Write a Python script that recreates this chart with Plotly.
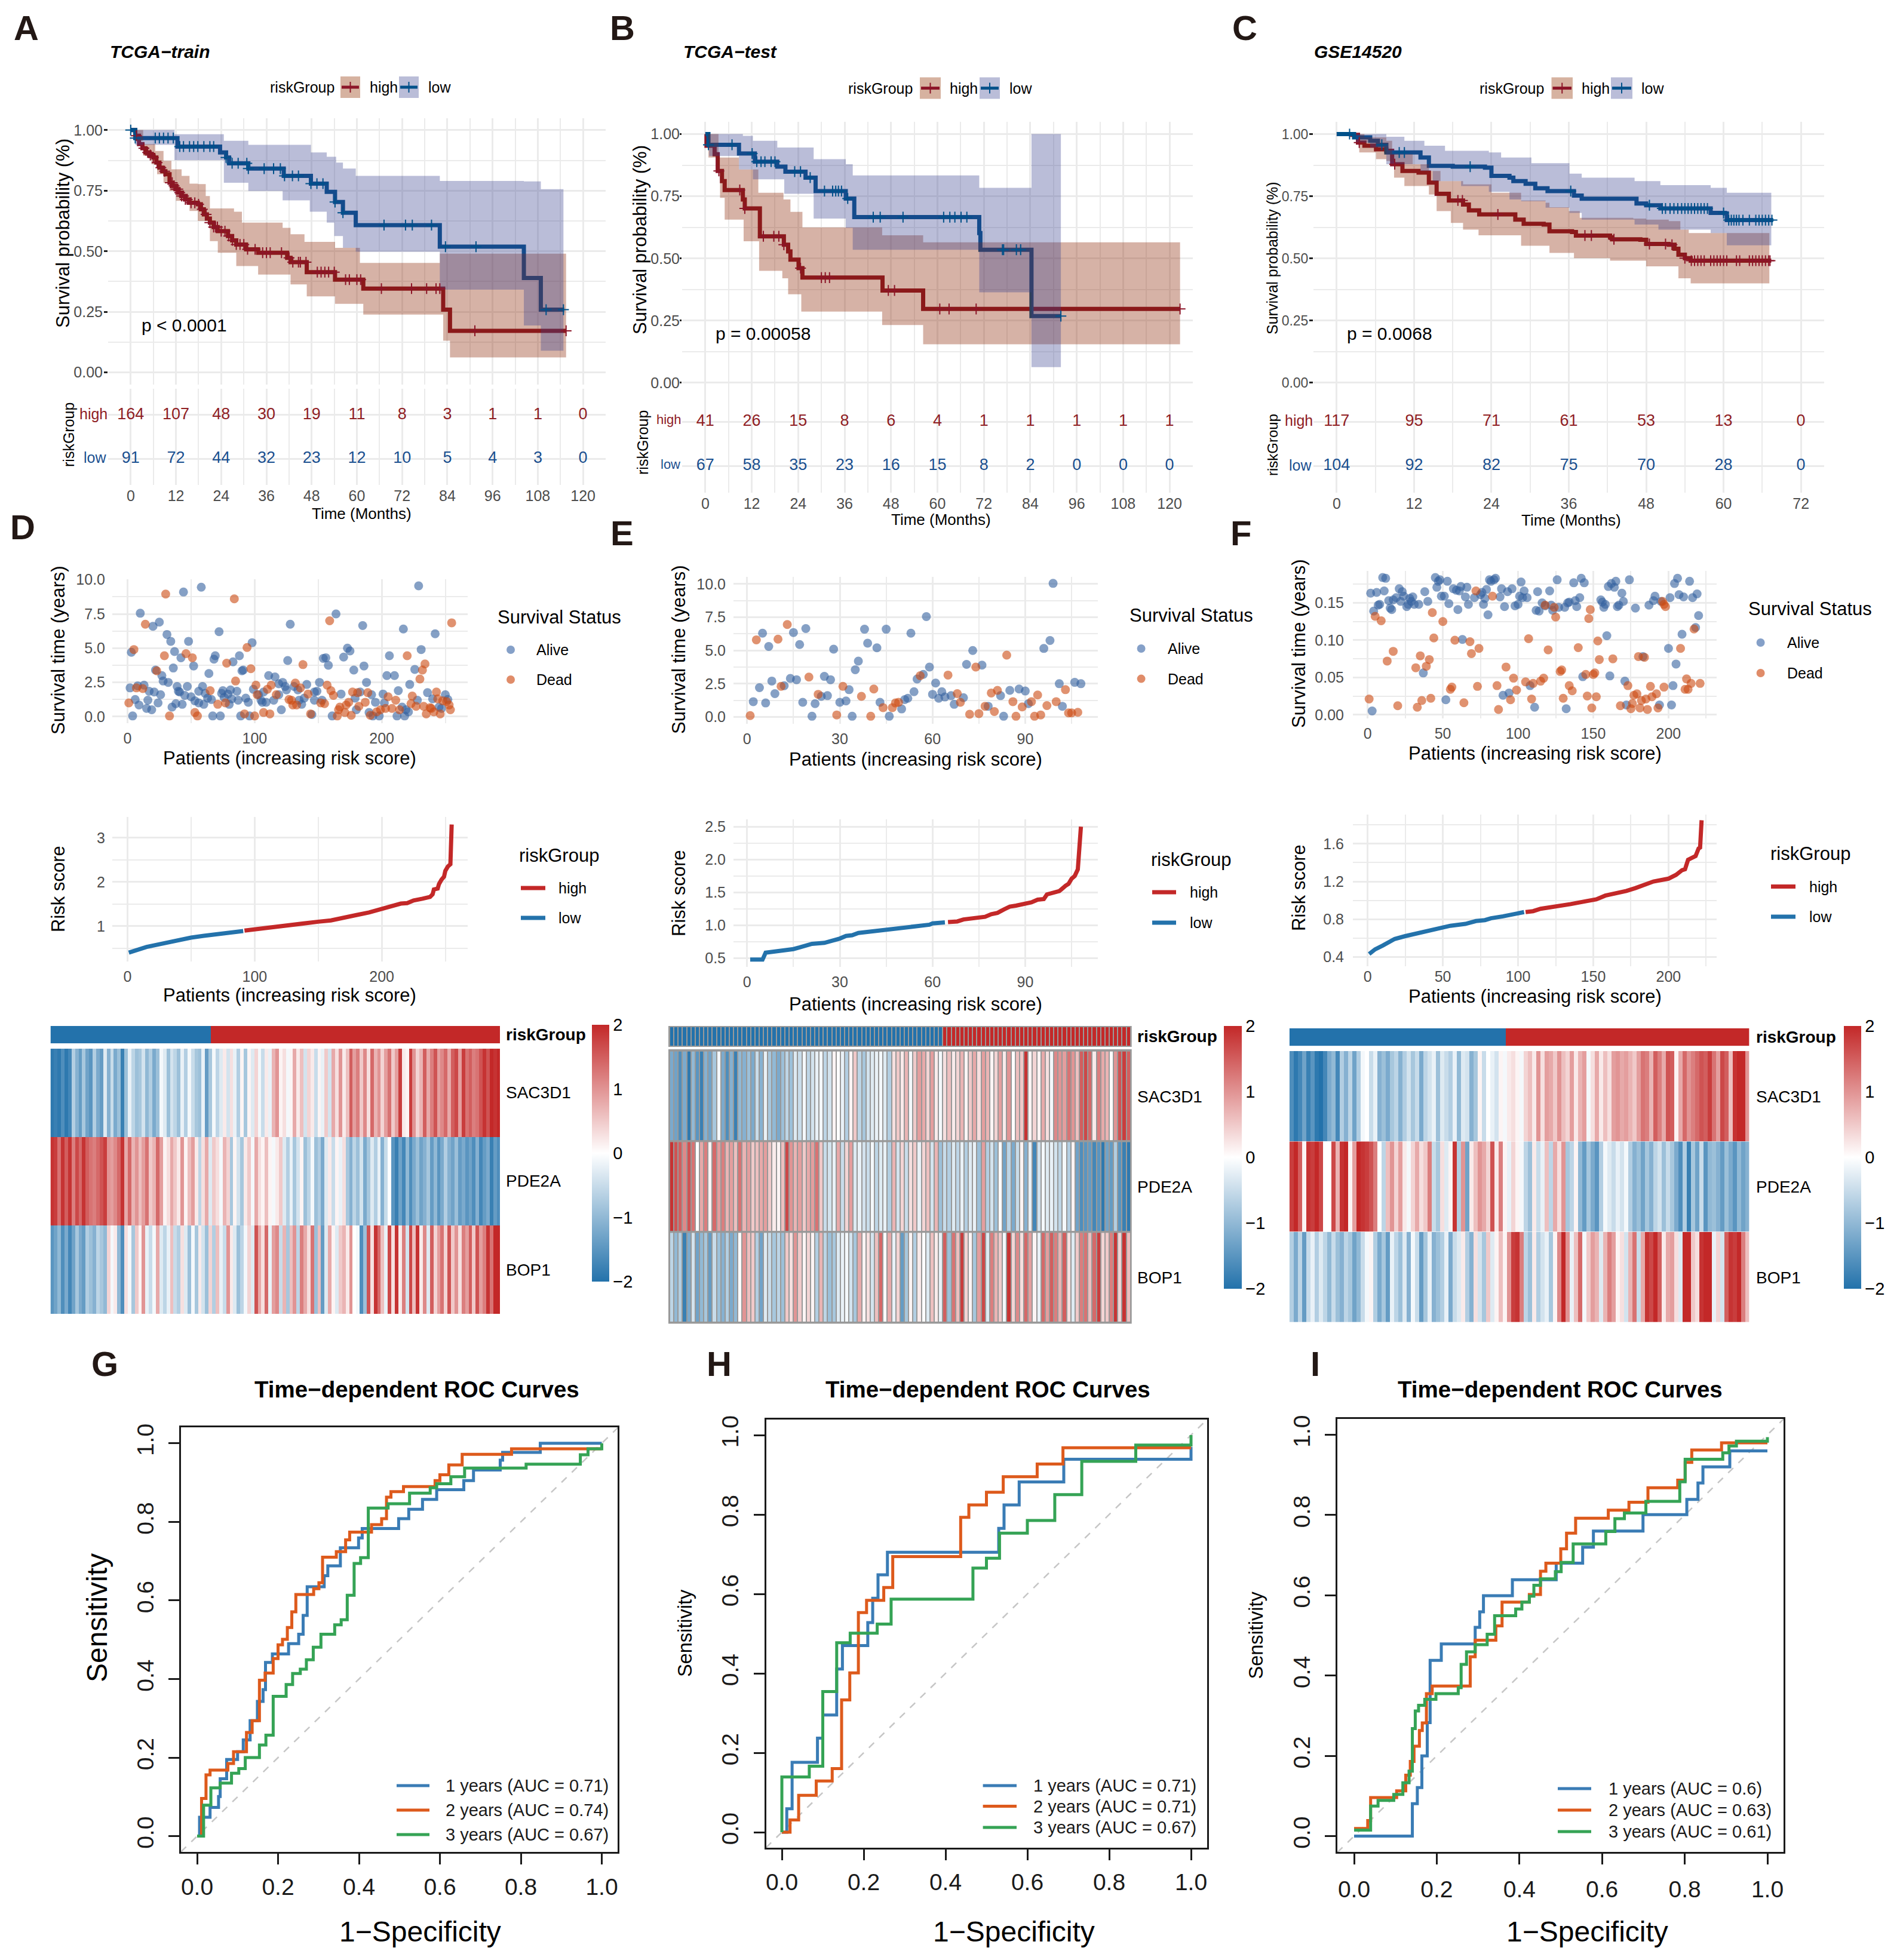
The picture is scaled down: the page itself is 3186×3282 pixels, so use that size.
import plotly.graph_objects as go

W, H = 3186, 3282
FONT = "Liberation Sans"
GRID = "#ebebeb"
TICK_GRAY = "#4d4d4d"
HIGH_TEXT, LOW_TEXT = "#8f2024", "#1a4f8f"
HIGH_LINE, LOW_LINE = "#8c1528", "#00518a"
HIGH_FILL, LOW_FILL = "rgba(138,35,0,0.35)", "rgba(58,66,143,0.35)"
RISK_HIGH, RISK_LOW = "#c32828", "#2372ab"
ALIVE, DEAD = "#34619f", "#cb4a10"
ROC_COLORS = ["#3a7cb5", "#dd5a1c", "#35a355"]

# ---- Kaplan-Meier panel A (TCGA-train) ----
A_TIMES = [0, 12, 24, 36, 48, 60, 72, 84, 96, 108, 120]
A_RISK_HIGH = [164, 107, 48, 30, 19, 11, 8, 3, 1, 1, 0]
A_RISK_LOW = [91, 72, 44, 32, 23, 12, 10, 5, 4, 3, 0]
A_HIGH_T = [0, 1.2, 2.2, 3.1, 3.9, 5, 6, 6.8, 7.6, 8.4, 9.2, 10.3, 11.1, 11.9, 12.7, 13.5, 14.5, 15.6, 17.8, 18.6, 19.4, 20.2, 21, 22, 23.1, 25.8, 26.9, 28, 30.6, 33.8, 41.5, 42.4, 46.7, 54.2, 61.7, 82.9, 84.7, 115.5]
A_HIGH_S = [1, .977, .942, .925, .908, .897, .887, .866, .845, .83, .818, .783, .77, .756, .742, .728, .714, .70, .694, .673, .652, .635, .618, .6, .583, .563, .545, .528, .508, .494, .473, .455, .414, .383, .346, .259, .172, .172]
A_HIGH_UT = [0, 3.3, 6.5, 8.7, 10.8, 13.5, 15.6, 17.8, 19.9, 21, 27.4, 29.5, 40.3, 42.4, 46.1, 54.2, 60.8, 82, 115.5]
A_HIGH_U = [1, .942, .914, .873, .838, .811, .779, .777, .728, .677, .663, .618, .597, .57, .539, .514, .452, .49, .49]
A_HIGH_LT = [0, 1.2, 3.3, 5.5, 7, 8.7, 10.3, 12, 15.6, 17.8, 21, 23.1, 28, 33.8, 42.4, 46.7, 54.2, 61.7, 82.9, 84.7, 115.5]
A_HIGH_L = [1, .956, .894, .859, .818, .783, .749, .708, .666, .625, .542, .494, .439, .404, .363, .314, .283, .239, .131, .062, .062]
A_LOW_T = [0, 1.2, 11.3, 12.4, 22.6, 23.7, 25.3, 26.1, 31.2, 40.6, 47.8, 52, 54.2, 56.3, 59.7, 82, 104.3, 108.8, 115]
A_LOW_S = [1, .967, .967, .932, .932, .908, .887, .863, .841, .811, .779, .745, .703, .659, .608, .519, .39, .259, .259]
A_LOW_UT = [0, 11.6, 24.7, 31.2, 47.8, 52, 54.5, 56.3, 59.7, 82, 104.3, 108.8, 114.8]
A_LOW_U = [1, .983, .956, .939, .908, .89, .866, .841, .811, .79, .788, .756, .756]
A_LOW_LT = [0, 1.2, 11.6, 24.7, 31.2, 40.3, 47.5, 52, 54, 56.3, 59.7, 82, 104.3, 108.8, 114.8]
A_LOW_L = [1, .939, .876, .783, .749, .71, .663, .618, .563, .514, .498, .342, .194, .09, .09]
A_LOW_CENSOR = [0, 1.2, 6.5, 7.6, 8.7, 9.9, 11.3, 13, 14, 15.6, 16.7, 17.8, 19.4, 21, 22, 25.3, 26.9, 28.5, 30.8, 31.2, 35.4, 37.9, 39.7, 40.8, 42.9, 44.5, 47.8, 49.4, 51, 54.2, 56.3, 67.2, 72.9, 74.7, 79.8, 83.5, 91.6, 110.2, 114.8]
A_HIGH_CENSOR = [1.5, 3.5, 4.5, 5.2, 6, 7, 8, 9, 10.5, 11, 11.5, 12, 12.5, 13, 13.5, 14, 14.5, 15, 16, 17, 18, 19, 20, 21, 22, 22.5, 23, 24, 25, 26, 27, 28, 29, 30, 31, 33, 35, 36, 37, 40, 42, 43, 44.5, 45, 46.5, 49.5, 50.5, 51.5, 52.5, 54, 57, 58, 60, 61, 66.5, 74.5, 78.5, 81, 82, 91.3, 115.5]

# ---- Kaplan-Meier panel B (TCGA-test) ----
B_TIMES = [0, 12, 24, 36, 48, 60, 72, 84, 96, 108, 120]
B_RISK_HIGH = [41, 26, 15, 8, 6, 4, 1, 1, 1, 1, 1]
B_RISK_LOW = [67, 58, 35, 23, 16, 15, 8, 2, 0, 0, 0]
B_HIGH_T = [0, .3, 2.4, 3.2, 4.3, 5, 9.7, 10.2, 14.1, 20.3, 21.4, 22, 24.1, 25.1, 45.8, 56.3, 122.7]
B_HIGH_S = [1, .953, .919, .852, .811, .775, .737, .701, .589, .555, .528, .495, .461, .423, .371, .297, .297]
B_HIGH_UT = [0, 3.4, 8.7, 13.7, 20.2, 22, 25.1, 45.7, 56.3, 122.7]
B_HIGH_U = [1, .906, .858, .764, .737, .687, .625, .593, .565, .565]
B_HIGH_LT = [0, .8, 3, 3.8, 5, 9.9, 13.9, 19.9, 21.4, 24.8, 45.7, 56.3, 122.7]
B_HIGH_L = [1, .906, .852, .744, .656, .569, .45, .42, .356, .286, .232, .155, .155]
B_LOW_T = [0, .8, 8.7, 12.8, 18.6, 20.7, 25.9, 28.5, 36.3, 38.5, 70.8, 71.1, 84.3, 91.9]
B_LOW_S = [1, .957, .922, .889, .869, .849, .825, .771, .741, .666, .602, .535, .268, .268]
B_LOW_UT = [0, 9.7, 12.3, 18.6, 28, 36.3, 38.1, 70.8, 84.3, 91.9]
B_LOW_U = [1, .993, .973, .946, .899, .879, .834, .784, 1, 1]
B_LOW_LT = [0, 1, 8.7, 12.3, 20.4, 28, 36.3, 38.1, 70.8, 84.3, 91.9]
B_LOW_L = [1, .912, .858, .818, .76, .66, .623, .535, .364, .063, .063]
B_LOW_CENSOR = [.8, 6.9, 12.1, 13.3, 14.4, 15.4, 17, 18, 23.1, 24.6, 27.1, 30.8, 32.9, 33.7, 34.4, 35.2, 36.8, 43.4, 45.2, 51.1, 61.6, 63.2, 64.5, 66.1, 67.6, 76.8, 77.1, 80.4, 81.5, 91.9]
B_HIGH_CENSOR = [3.5, 8.9, 10.2, 15, 17.7, 19, 20.3, 24.6, 30, 31, 32.1, 47.3, 48.9, 60.6, 63, 70, 122.7]

# ---- Kaplan-Meier panel C (GSE14520) ----
C_TIMES = [0, 12, 24, 36, 48, 60, 72]
C_RISK_HIGH = [117, 95, 71, 61, 53, 13, 0]
C_RISK_LOW = [104, 92, 82, 75, 70, 28, 0]
C_HIGH_T = [0, 2.4, 3.3, 4.3, 6.1, 7.7, 8.6, 10.2, 12.7, 14.3, 15.5, 17.4, 19.6, 20.5, 22.1, 27.7, 29, 32.1, 33, 36.5, 37.1, 42.4, 42.7, 47.1, 48, 51.5, 52.4, 53, 54, 54.9, 67.4]
C_HIGH_S = [1, .997, .966, .953, .939, .933, .879, .852, .845, .805, .76, .733, .717, .693, .677, .656, .639, .636, .609, .606, .592, .585, .577, .575, .558, .555, .539, .515, .501, .491, .491]
C_HIGH_UT = [0, 4.3, 7.7, 8.6, 11.8, 14.3, 16.1, 19.6, 24, 28.6, 32.4, 33, 36, 37.7, 46, 48, 51.5, 53.3, 54.6, 67.1]
C_HIGH_U = [1, .987, .973, .919, .879, .852, .811, .798, .764, .733, .724, .706, .69, .663, .66, .656, .65, .616, .602, .60]
C_HIGH_LT = [0, 3.5, 6.1, 7.7, 8.9, 10.5, 14.3, 15.5, 17.7, 19.6, 22, 28.6, 33, 36.8, 42.4, 48, 53, 54.9, 67.1]
C_HIGH_L = [1, .926, .899, .892, .825, .791, .757, .69, .643, .616, .593, .551, .522, .501, .491, .468, .42, .40, .40]
C_LOW_T = [0, 2.7, 5.2, 6.4, 7.7, 13, 14.3, 18, 23, 24, 26.8, 27.4, 29.3, 30.8, 32.7, 36.8, 38, 46.5, 48, 50.2, 58, 60.2, 60.5, 67.7]
C_LOW_S = [1, .987, .973, .957, .926, .906, .872, .869, .865, .832, .825, .811, .80, .782, .771, .753, .74, .721, .714, .701, .683, .681, .654, .654]
C_LOW_UT = [0, 7.7, 10.5, 13.6, 16.8, 23.6, 25.5, 30.2, 36.1, 38, 46.2, 50.2, 58, 60.5, 67.4]
C_LOW_U = [1, .989, .973, .953, .933, .926, .906, .883, .841, .825, .811, .795, .784, .764, .764]
C_LOW_LT = [0, 3, 5.2, 7.7, 13, 14.9, 19.3, 23.6, 26.8, 28.6, 32.4, 36.1, 38, 46.2, 49.9, 58, 60.5, 67.4]
C_LOW_L = [1, .965, .946, .879, .852, .811, .791, .768, .737, .73, .704, .683, .656, .636, .616, .602, .553, .553]
C_LOW_CENSOR = [2, 7, 9.7, 10.5, 20.7, 36.3, 48.5, 50.5, 51, 51.7, 52.3, 52.9, 53.5, 54, 54.5, 55, 55.5, 56, 56.5, 57, 57.5, 60, 60.8, 61.2, 61.6, 62, 62.4, 63, 64, 65, 65.5, 66, 66.5, 67, 67.5]
C_HIGH_CENSOR = [3.5, 9, 18.8, 19.5, 25, 38.5, 39.5, 43, 48.5, 51, 52, 54, 55, 55.5, 56, 56.5, 57, 58, 58.5, 59, 59.5, 60, 60.5, 62, 62.5, 64, 64.5, 65, 65.5, 66, 66.5, 67, 67.2]

# ---- Survival scatter panels D, E, F ----
D_ALIVE_X = [3, 2, 4, 6, 8, 9, 10, 13, 16, 15, 17, 19, 20, 21, 22, 24, 25, 26, 27, 28, 31, 32, 34, 35, 36, 37, 38, 39, 40, 41, 42, 43, 44, 45, 47, 48, 50, 52, 53, 56, 56, 58, 59, 60, 61, 63, 64, 66, 67, 68, 69, 72, 73, 74, 75, 76, 79, 80, 81, 82, 83, 86, 87, 88, 89, 90, 91, 93, 95, 96, 98, 99, 103, 105, 106, 107, 109, 111, 115, 116, 119, 119, 121, 122, 124, 125, 126, 128, 131, 134, 135, 137, 139, 141, 145, 147, 147, 149, 151, 153, 154, 156, 158, 161, 164, 168, 170, 173, 175, 178, 179, 180, 183, 185, 186, 188, 190, 192, 193, 195, 198, 201, 202, 204, 206, 210, 212, 213, 216, 217, 218, 219, 221, 222, 226, 228, 229, 231, 236, 240, 242, 245, 247, 250, 252]
D_ALIVE_Y = [4.7, 2.1, .05, 1.25, 2.25, .85, 7.55, 2.3, 1.2, .6, 1.85, .5, 6.6, 1.8, 3.4, 1.0, 6.9, 1.6, 3.0, 2.6, 6.0, 2.5, 5.5, .7, 3.55, 4.75, .95, 2.2, 1.85, 1.8, 4.3, .9, 9.1, 1.55, 2.2, 5.5, 1.45, 3.7, 1.15, 1.85, 1.0, 9.45, 2.2, .9, 1.7, 1.35, 3.15, 1.25, .05, 4.2, 4.45, 6.2, .05, 1.7, 1.9, 1.4, 1.65, .9, 1.95, 1.3, 4.0, 1.85, 1.2, 4.45, .05, 3.35, 3.4, 1.35, 1.05, .05, 5.4, 2.0, 1.6, 1.2, 1.05, 1.8, 1.05, 3.0, 1.2, 2.9, 1.6, 2.4, .5, 2.5, 2.2, 1.95, 4.1, 6.75, 2.2, 1.95, 1.2, .9, 1.35, 2.35, .15, 1.8, 1.2, 1.85, 2.5, 1.2, 4.25, 4.3, 3.75, .05, 7.5, 1.65, 4.35, 5.0, 4.8, 3.4, 1.35, .5, 1.8, 6.65, 3.7, 2.5, .3, 1.6, .05, 1.05, .05, 1.65, 1.0, 3.0, 4.45, 3.0, .05, 1.9, .7, 6.4, .05, .5, .35, 2.35, 3.45, 1.2, 9.55, 4.9, 1.75, 1.3, 6.05, .7, .6, 1.6, 1.25]
D_DEAD_X = [1, 5, 7, 12, 14, 23, 29, 30, 33, 46, 51, 53, 55, 65, 71, 77, 78, 84, 85, 92, 94, 97, 100, 101, 102, 107, 110, 112, 113, 117, 127, 129, 130, 132, 133, 136, 138, 142, 144, 152, 155, 157, 159, 160, 162, 165, 166, 167, 171, 172, 174, 176, 177, 181, 182, 187, 189, 191, 196, 199, 203, 205, 208, 211, 214, 220, 224, 223, 227, 230, 232, 233, 234, 235, 238, 239, 241, 243, 244, 246, 248, 251, 253, 254, 255]
D_DEAD_Y = [1.0, 4.9, 2.1, 2.05, 6.75, 3.35, 4.45, 8.95, .05, 4.6, 4.3, .3, .05, 1.9, .9, 1.0, 3.9, 8.6, 2.6, .2, 5.05, 3.5, .05, 2.3, 1.6, .3, 2.0, .2, 2.3, 1.6, 1.25, 1.2, .85, 2.45, .85, 2.1, 3.8, 1.65, .2, 1.0, .95, 2.3, 7.0, 1.9, 1.55, .05, .5, .7, .3, .85, 1.05, .1, 1.8, 1.75, .75, 1.05, 1.75, .1, .35, .5, .6, 1.45, .6, 1.2, .5, 4.45, 1.5, .95, .75, 2.75, 3.4, .75, 3.85, .2, .65, .6, .35, 1.8, 1.3, .2, 1.15, 1.1, .85, .5, 6.85]

E_ALIVE_X = [2, 4, 5, 6, 7, 8, 9, 12, 14, 15, 16, 17, 18, 19, 21, 22, 24, 25, 26, 27, 28, 30, 32, 33, 34, 35, 36, 38, 39, 42, 43, 45, 46, 50, 51, 52, 53, 54, 55, 57, 58, 59, 60, 61, 62, 63, 64, 66, 67, 70, 71, 73, 76, 78, 82, 83, 85, 88, 90, 91, 96, 98, 99, 101, 102, 106, 108]
E_ALIVE_Y = [1.15, 2.2, 6.3, 1.05, 5.3, 2.7, 1.75, 2.35, 2.9, 6.35, 2.8, 5.45, 1.1, 6.65, .05, 1.0, 1.55, 3.05, 1.6, 2.8, 5.1, 1.1, 1.2, 2.05, .05, 3.55, 4.2, 6.6, 5.55, 5.2, 1.1, 6.6, .05, .6, 1.3, 1.4, 6.3, 1.9, 2.85, 3.2, 7.55, 3.75, 1.7, 2.55, 1.4, 1.9, 1.5, 1.6, .95, 1.45, 3.95, 5.0, 3.9, .8, 1.6, .05, 2.0, 2.1, 1.95, 1.0, 5.15, 5.75, 10.05, 2.5, .8, 2.6, 2.5]
E_DEAD_X = [1, 3, 10, 11, 13, 20, 23, 29, 31, 37, 40, 41, 44, 47, 48, 49, 56, 65, 68, 69, 72, 74, 75, 77, 79, 80, 81, 84, 86, 87, 89, 92, 93, 94, 95, 97, 100, 103, 104, 105, 107]
E_DEAD_Y = [.1, 5.8, 5.85, 2.3, 6.95, 3.0, 1.7, .15, 2.3, 1.55, .05, 2.1, .7, .7, 1.05, 1.1, 3.1, 3.15, 1.75, 1.1, .2, 3.75, .25, .8, 1.8, .4, 2.0, 4.65, 1.15, .05, .75, 1.15, .05, 1.65, .15, .85, 1.15, 2.05, .3, .3, .35]

F_ALIVE_X = [2, 3, 4, 6, 7, 8, 10, 11, 12, 14, 15, 16, 17, 19, 21, 22, 23, 24, 26, 27, 28, 29, 30, 31, 34, 37, 38, 40, 45, 46, 47, 48, 49, 51, 52, 53, 54, 57, 59, 60, 61, 62, 63, 65, 66, 67, 71, 75, 76, 77, 78, 79, 80, 81, 82, 84, 85, 88, 89, 90, 91, 93, 94, 96, 98, 100, 101, 102, 103, 104, 106, 108, 111, 112, 113, 114, 116, 118, 121, 122, 123, 126, 127, 131, 132, 133, 134, 137, 138, 139, 141, 142, 143, 144, 155, 156, 157, 158, 159, 160, 161, 162, 164, 165, 166, 167, 169, 170, 171, 172, 174, 178, 183, 187, 190, 191, 194, 195, 200, 201, 202, 203, 204, 205, 206, 207, 209, 210, 214, 216, 218, 219, 220]
F_ALIVE_Y = [.163, .005, .139, .164, .147, .148, .184, .166, .183, .153, .143, .141, .154, .157, .169, .152, .165, .159, .145, .148, .156, .152, .158, .148, .148, .056, .165, .152, .184, .171, .179, .181, .159, .159, .020, .179, .149, .169, .167, .141, .166, .172, .101, .158, .171, .148, .157, .161, .164, .148, .156, .168, .134, .181, .179, .181, .183, .158, .169, .026, .145, .165, .029, .169, .146, .148, .159, .178, .157, .166, .157, .039, .01, .14, .165, .139, .15, .146, .166, .147, .14, .181, .144, .144, .008, .15, .151, .177, .153, .145, .157, .183, .051, .177, .154, .151, .144, .148, .106, .172, .052, .176, .171, .179, .145, .147, .163, .152, .045, .013, .181, .143, .078, .147, .153, .159, .013, .152, .089, .157, .013, .039, .176, .068, .183, .161, .108, .158, .179, .157, .117, .162, .133]
F_DEAD_X = [1, 5, 9, 13, 17, 20, 32, 33, 35, 36, 39, 41, 42, 43, 44, 50, 55, 56, 58, 64, 68, 69, 72, 73, 74, 83, 86, 87, 92, 95, 97, 99, 105, 107, 109, 110, 115, 117, 118, 120, 124, 125, 128, 129, 130, 134, 136, 140, 145, 146, 147, 148, 149, 150, 151, 152, 153, 154, 163, 168, 173, 175, 176, 177, 179, 180, 181, 182, 184, 185, 186, 188, 189, 192, 193, 196, 197, 198, 197, 208, 211, 212, 213, 215, 217, 221]
F_DEAD_Y = [.021, .132, .126, .072, .085, .012, .063, .01, .079, .019, .065, .074, .022, .137, .103, .125, .034, .037, .1, .016, .098, .082, .166, .038, .089, .159, .039, .007, .064, .02, .049, .033, .044, .102, .021, .042, .045, .049, .147, .087, .144, .131, .058, .06, .022, .039, .032, .09, .054, .025, .129, .141, .009, .054, .056, .024, .099, .074, .075, .012, .039, .008, .015, .026, .028, .078, .009, .019, .077, .021, .007, .038, .024, .028, .009, .152, .148, .145, .037, .089, .034, .048, .034, .042, .115, .042]

# ---- Risk score curves ----
D_LOW_IDX = [1, 5, 10, 15, 20, 25, 30, 35, 40, 50, 60, 70, 80, 91]
D_LOW_RISK = [.40, .44, .50, .53, .56, .59, .62, .66, .68, .74, .78, .82, .86, .89]
D_HIGH_IDX = [92, 100, 110, 120, 130, 140, 150, 160, 170, 180, 190, 200, 210, 215, 220, 225, 232, 238, 240, 241, 244, 245, 247, 249, 250, 252, 254, 255]
D_HIGH_RISK = [.90, .93, .97, 1.0, 1.04, 1.07, 1.1, 1.13, 1.2, 1.25, 1.31, 1.39, 1.45, 1.51, 1.52, 1.58, 1.62, 1.66, 1.72, 1.83, 1.85, 1.95, 2.05, 2.12, 2.25, 2.35, 2.4, 3.3]
E_LOW_IDX = [1, 5, 6, 9, 12, 15, 17, 19, 21, 25, 27, 28, 30, 32, 34, 36, 40, 43, 47, 50, 53, 57, 59, 60, 64]
E_LOW_RISK = [.48, .48, .585, .6, .625, .64, .665, .69, .72, .735, .76, .78, .8, .84, .85, .885, .905, .93, .94, .955, .98, .99, 1.01, 1.03, 1.045]
E_HIGH_IDX = [65, 68, 70, 72, 75, 77, 79, 80, 81, 83, 84, 85, 87, 90, 92, 94, 96, 97, 99, 101, 103, 104, 105, 106, 107, 108]
E_HIGH_RISK = [1.05, 1.06, 1.09, 1.1, 1.12, 1.13, 1.17, 1.18, 1.19, 1.24, 1.26, 1.285, 1.3, 1.33, 1.35, 1.39, 1.4, 1.47, 1.49, 1.52, 1.6, 1.63, 1.71, 1.75, 1.85, 2.5]
F_LOW_IDX = [1, 3, 5, 10, 15, 18, 25, 30, 37, 45, 55, 65, 72, 78, 82, 90, 97, 104]
F_LOW_RISK = [.43, .46, .48, .52, .57, .59, .62, .64, .66, .7, .73, .75, .78, .79, .81, .83, .85, .875]
F_HIGH_IDX = [105, 110, 115, 125, 135, 145, 152, 158, 165, 172, 178, 185, 190, 200, 205, 209, 211, 213, 216, 218, 220, 221, 222]
F_HIGH_RISK = [.875, .885, .91, .93, .96, .99, 1.01, 1.05, 1.07, 1.1, 1.13, 1.17, 1.2, 1.23, 1.27, 1.32, 1.33, 1.43, 1.46, 1.47, 1.55, 1.56, 1.85]

# ---- Expression heatmaps ----
GENES = ["SAC3D1", "PDE2A", "BOP1"]
D_HEAT_SAC3D1 = [-1.9, -1.8, -1.9, -1.6, -1.9, -1.7, -.7, -1.1, -1.4, -.8, -1.3, -1.5, -.7, -1.2, -1.4, -.3, -1.1, -.5, -1.2, -.9, -1.8, -.9, -.2, -.6, -.9, -.8, -.4, -1.0, -.7, -1.2, -.9, -.1, -.3, -.9, -.4, -.6, -.9, -.2, -.7, -.1, -.5, -.8, -.9, -.2, -1.4, -.8, -.1, -.6, -.3, .2, -.4, .3, -.2, -.7, .1, -.8, .1, -.3, .4, -.1, -.5, .2, -.2, .7, 1.0, .1, .3, -.1, .1, .8, .2, .6, -.4, .4, .2, -.5, .1, -.2, .5, -.4, .8, .3, 1.0, .2, .6, 1.5, .9, 1.2, .5, 1.1, .3, 1.4, .7, 1.0, .4, .9, 1.3, .5, .9, 1.8, .2, .1, 1.8, 1.0, .4, .7, 1.5, .8, 1.2, 1.6, .9, 1.1, 1.4, .8, 1.5, 1.7, .9, 1.8, 1.3, 1.5, 1.2, 1.3, 1.6, 1.9, 1.6, 2.0, 1.9, 2.0]
D_HEAT_PDE2A = [1.9, 1.8, 1.3, 1.9, 1.5, 1.9, 1.2, 1.7, 1.4, 1.9, 1.5, 1.3, 1.2, 1.4, 1.6, 1.8, 1.0, .9, 1.1, 1.4, 1.9, .8, 1.4, .7, 1.0, .6, .9, 1.3, .5, .7, 1.4, .9, .1, .3, .8, .5, .2, 1.0, .1, .6, .9, .2, -.6, .3, .8, -.3, .5, .3, -.1, .7, .4, -.8, .1, -.4, -.8, .2, .5, -.1, .8, .3, .1, .6, .1, -.1, .2, .5, -.3, -.7, -.2, -.8, -.4, .1, -.9, -.6, -.1, -.9, -.7, -1.2, -.3, .2, -.5, .1, -.2, .3, -.8, -1.1, -.6, -.9, -.4, -1.2, -.8, -.3, -.7, -.2, -1.1, -.5, 0, -1.5, -1.8, -1.3, -1.7, -1.0, -1.6, -1.2, -.9, -1.3, -1.1, -.8, -1.4, -1.0, -1.5, -1.2, -.7, -1.1, -1.3, -.9, -1.4, -1.2, -1.5, -1.3, -1.6, -1.1, -1.7, -1.4, -1.2, -1.8, -1.4, -1.6]
D_HEAT_BOP1 = [-1.5, -1.3, -1.0, -1.6, -1.2, -1.7, -1.3, -.8, -1.2, -1.4, -.7, -.9, -1.1, -.6, -.8, -1.0, .4, -.1, .2, -1.0, -1.6, .3, -.1, -.8, .5, .1, 1.0, -.2, -.5, -.1, .8, -.3, -.6, -.2, .6, -.5, -.7, .3, -.3, -.9, -.1, -.8, .2, -.4, -.9, .4, -.7, .6, -.2, -.5, 1.0, .2, -.3, -.9, -.6, -.1, .4, -.3, 1.6, .8, .3, 1.4, -.2, .9, 1.1, -.5, .7, -.8, .6, 1.0, -.6, 1.2, .8, .3, 1.3, -.9, .6, -1.4, -.3, .8, .1, -.3, .5, .7, .2, 1.0, 0, -.1, -1.6, -.9, 1.6, .3, 1.9, 1.4, .6, -.2, 1.7, .3, 1.9, .2, 1.2, -.4, 1.7, .6, 1.9, .2, 1.1, -.3, 1.5, .4, .9, 1.3, .4, 1.6, .5, 1.0, .3, 1.2, .9, 1.5, .5, 1.6, .9, 1.2, 1.9, 1.3, 2.0, 2.0]
E_HEAT_SAC3D1 = [-1.2, -1.3, -1.6, -1.2, -1.9, -1.0, -1.5, -1.8, -1.1, -1.3, -.8, -.1, -1.2, -1.6, -1.1, -1.8, -1.0, -1.1, -.9, -1.2, -.5, -1.1, -.2, -.8, -1.0, -1.2, -.9, -.6, -.9, -.3, -.5, -.1, -.6, -.4, -.2, -.1, -.6, -.4, .1, 0, -.2, -.7, .1, .5, -.6, -.8, -.4, -.3, -.2, -.1, -.3, -.7, .3, .5, .2, .7, -.1, .5, .9, .8, .4, .9, .2, -.1, .3, .6, .2, .4, .7, .1, .5, .8, .3, .9, .7, .1, .4, .9, .2, 1.0, 0, .6, .5, 1.9, .1, .4, .1, .8, .3, -.1, 1.1, 1.0, .9, 1.3, 1.0, .6, 1.5, 1.7, 1.4, .2, 1.2, .8, .7, 0, 1.0, 1.6, 1.8, 1.5]
E_HEAT_PDE2A = [1.9, 1.6, 1.5, 1.1, 1.6, 1.3, 0, .8, 1.2, .1, 1.4, .9, 1.2, .7, .9, .6, 1.3, .7, .9, .5, .6, .8, .9, .5, .2, .1, .6, 1.7, 1.0, .7, .9, .5, .8, .9, 1.3, .5, -.5, -.4, -.2, .8, -.5, .4, .9, -.3, -.2, -.4, -.5, -.1, -.6, -.3, -.2, -.7, .7, -.4, .4, -.5, .3, .5, -.2, .4, .6, -.4, .7, -.9, -.5, -.7, -.3, -.6, -.2, -.7, -.3, -.2, -.9, .9, -.7, -.4, -.9, 0, -1.3, -.6, -1.2, -.5, .1, -1.1, -.2, -1.7, -.4, -.1, -.3, -.2, -.4, -.6, -.1, -.7, .1, -1.3, -1.6, -1.5, -1.4, -1.7, -1.5, -1.9, -1.3, -1.4, -.7, -1.5, -1.8, -1.9]
E_HEAT_BOP1 = [-.6, -1.0, -.7, -1.8, -1.2, -.4, -1.3, -1.0, -.8, -1.4, -.5, -.9, -1.1, -.7, -1.2, -1.0, 0, 1.0, .6, .5, -.7, -1.3, -.3, -.5, -.8, -.6, -.9, .5, .3, 1.0, .5, .1, .4, .1, -.7, .7, -.6, -.9, -.8, -.3, -.2, -.1, -.4, -.8, .8, .1, .3, -.4, .6, 1.4, 0, .8, -.2, .4, -1.4, -.8, .1, -.7, .2, 0, -.3, .6, .2, -.2, 1.5, -.9, 1.3, .6, 1.8, .4, .1, -.8, .9, 1.7, -.3, 1.2, .7, .5, -.1, 1.9, .4, 1.1, .3, 1.4, .9, .1, -.2, 1.4, .9, 1.5, 1.2, .7, 1.5, .3, -.3, .5, 1.2, 1.3, .6, 1.4, 1.8, .4, .5, 1.2, 1.9, .4, 1.9, .6]
F_HEAT_SAC3D1 = [-1.6, -1.9, -1.7, -1.3, -1.8, -1.5, -1.9, -2.0, -1.7, -1.2, -1.0, -1.7, -.7, -1.1, -.6, -1.3, -.7, -.1, 0, -.5, -.2, -1.1, -.9, -1.2, -.8, -.6, -1.1, -.7, -.4, -.8, -.5, -1.2, -.6, -.4, -.2, -.9, -.3, -.5, -.7, -.2, -1.0, -.3, -.4, -1.1, -.8, .1, -.5, 0, -.2, -.4, .1, -.1, .2, .3, .1, -.1, .4, .6, .2, 1.0, .3, .9, .8, .5, 1.0, .6, .4, .9, .2, .7, .9, -.1, .3, .8, .2, .6, .3, .9, 1.0, .8, .9, .7, .5, .9, 1.3, 1.2, .7, 1.5, 1.2, .8, 1.6, 1.5, .1, .8, 1.4, 1.0, 1.2, 1.4, 1.6, 1.5, 1.8, 1.3, .9, 1.7, 1.5, .6, 1.9, 2.0, 2.0, 1.0]
F_HEAT_PDE2A = [1.8, 2.0, 1.5, .1, 1.9, 1.8, 2.0, 1.7, 0, 0, 1.7, .7, 1.9, 2.0, .1, .9, 2.0, 1.9, 1.8, 1.6, 1.2, 0, -.6, .6, 1.0, .4, .9, .2, -.1, .4, .8, .3, .5, 1.2, -.5, -.8, .3, -.3, .1, 1.9, -.7, 1.0, -1.3, .2, .6, 1.0, .8, .4, 1.6, .2, 1.2, .1, -.2, .4, .1, -.1, -.6, -.9, .2, -.5, -.2, .6, -.6, .8, .3, 1.0, -.8, -.6, .1, -1.0, -1.4, -.8, -1.2, -1.5, -.7, -.1, -.3, -.5, -.2, -.4, -.1, -.7, -1.1, -.9, -1.3, -.8, -1.1, -.6, -.4, -.9, -.5, -.8, -1.2, -1.6, -.7, -1.8, -.8, -1.3, -.5, -1.5, -1.0, -.9, -1.1, -1.4, -.9, -1.2, -1.5, -1.0, -1.3, -1.1]
F_HEAT_BOP1 = [-.7, -1.2, -.6, -1.4, -.5, -.2, -.7, -.3, -.6, -1.0, -.5, -.9, -1.1, -.6, -.8, -1.3, -1.0, -.5, -.1, .1, -.7, -1.2, -.8, -1.4, -.2, -.6, -.9, -.3, -1.1, -.1, -.5, -1.4, -.8, -.2, -1.1, -.9, -.7, -.2, -1.2, -.5, -.3, .2, -.7, -1.1, .3, -.4, -.8, .5, -.3, .1, .6, .1, 1.0, 1.8, 1.9, 1.2, -.6, -.9, .2, -.7, -.4, -.2, -.8, .1, 1.1, 2.0, 1.0, -.2, .6, 1.4, -.1, .5, .9, .7, -.3, .7, 1.2, .9, .1, .3, -.4, .7, 1.3, -.5, .8, 1.9, 1.7, 2.0, 1.5, .2, .8, .9, .3, -.3, 2.0, 2.0, .5, .3, 1.9, 2.0, 2.0, -.2, .4, -.4, 1.5, 1.9, 1.8, 2.0, 1.2, .6]
D_GROUP_COUNTS = [91, 164]
E_GROUP_COUNTS = [64, 44]
F_GROUP_COUNTS = [104, 117]

# ---- ROC curves ----
G_Y1_FPR = [0, .006, .032, .053, .057, .073, .1, .114, .131, .149, .163, .169, .186, .226, .251, .262, .272, .314, .323, .354, .399, .408, .498, .523, .557, .592, .659, .683, .749, .755, .848, 1]
G_Y1_TPR = [0, .048, .073, .101, .146, .195, .215, .245, .294, .343, .373, .442, .464, .49, .514, .562, .635, .663, .688, .734, .759, .783, .808, .832, .857, .882, .905, .932, .957, .977, 1, 1]
G_Y2_FPR = [0, .011, .022, .032, .076, .09, .122, .136, .154, .168, .188, .2, .211, .223, .234, .244, .288, .301, .31, .344, .367, .377, .431, .456, .468, .479, .51, .588, .6, .622, .655, .777, 1]
G_Y2_TPR = [0, .096, .156, .168, .185, .215, .264, .294, .397, .415, .452, .487, .501, .531, .571, .615, .63, .645, .71, .724, .754, .774, .793, .808, .863, .877, .89, .905, .92, .945, .972, .986, .986]
G_Y3_FPR = [0, .016, .034, .057, .085, .103, .119, .154, .17, .188, .22, .236, .255, .27, .287, .306, .34, .356, .371, .388, .404, .423, .472, .525, .576, .592, .627, .661, .813, .947, .966, 1]
G_Y3_TPR = [0, .079, .123, .135, .16, .172, .2, .232, .257, .356, .386, .414, .425, .449, .481, .514, .538, .551, .613, .694, .709, .835, .846, .873, .887, .897, .915, .937, .947, .971, .986, 1]
H_Y1_FPR = [0, .012, .025, .087, .1, .134, .148, .21, .222, .235, .258, .53, .543, .58, .689, 1, 1]
H_Y1_TPR = [0, .059, .176, .237, .295, .411, .47, .528, .589, .648, .705, .765, .824, .882, .939, .939, .97]
H_Y2_FPR = [0, .02, .041, .084, .123, .146, .166, .187, .207, .249, .271, .437, .457, .5, .541, .624, .687, 1]
H_Y2_TPR = [0, .031, .093, .129, .16, .333, .401, .553, .584, .616, .694, .793, .824, .856, .895, .927, .968, .968]
H_Y3_FPR = [0, 0, .067, .1, .134, .167, .233, .267, .467, .5, .532, .6, .667, .733, .865, 1]
H_Y3_TPR = [0, .139, .166, .354, .477, .501, .524, .587, .665, .69, .753, .785, .85, .934, .975, 1]
I_Y1_FPR = [0, .141, .153, .164, .177, .184, .211, .293, .304, .313, .383, .489, .553, .579, .699, .805, .832, .844, .909, 1]
I_Y1_TPR = [0, .081, .121, .2, .283, .438, .479, .52, .559, .599, .639, .68, .72, .76, .801, .839, .88, .92, .96, .96]
I_Y2_FPR = [0, .033, .04, .103, .125, .136, .145, .158, .165, .175, .189, .281, .293, .343, .358, .424, .451, .464, .5, .514, .536, .615, .665, .711, .783, .801, .817, .889, 1]
I_Y2_TPR = [.019, .039, .096, .113, .152, .186, .224, .263, .282, .355, .374, .447, .488, .524, .583, .602, .66, .68, .716, .755, .792, .812, .832, .868, .887, .931, .962, .98, .98]
I_Y3_FPR = [0, .04, .058, .096, .118, .133, .141, .148, .156, .171, .198, .252, .259, .272, .293, .322, .34, .391, .406, .424, .435, .451, .487, .501, .53, .609, .631, .654, .706, .788, .801, .892, .907, .925, 1]
I_Y3_TPR = [.015, .075, .089, .104, .133, .162, .268, .312, .326, .341, .355, .37, .428, .459, .477, .503, .549, .566, .583, .598, .625, .641, .659, .682, .728, .759, .791, .805, .834, .883, .939, .955, .972, .984, .994]
G_AUC = ["0.71", "0.74", "0.67"]
H_AUC = ["0.71", "0.71", "0.67"]
I_AUC = ["0.6", "0.63", "0.61"]

fig = go.Figure()
shapes, annotations, axes = [], [], {}
axis_count = [0]


def px_x(x):
    return x / W


def px_y(y):
    return 1 - y / H


def label(x, y, text, size, color="black", anchor="center", angle=0):
    annotations.append(dict(
        x=px_x(x), y=px_y(y), xref="paper", yref="paper", text=text, showarrow=False,
        xanchor=anchor, yanchor="middle", textangle=angle,
        font=dict(family=FONT, size=size, color=color)))


def rect(x0, y0, x1, y1, fill, layer="above", line=None, width=0):
    shapes.append(dict(type="rect", xref="paper", yref="paper", layer=layer,
                       x0=px_x(x0), x1=px_x(x1), y0=px_y(y1), y1=px_y(y0),
                       fillcolor=fill, line=dict(width=width, color=line or fill)))


def seg(x0, y0, x1, y1, color, width):
    shapes.append(dict(type="line", xref="paper", yref="paper",
                       x0=px_x(x0), x1=px_x(x1), y0=px_y(y0), y1=px_y(y1),
                       line=dict(color=color, width=width)))


def new_axes(left, top, right, bottom, xrange, yrange, xopts=None, yopts=None):
    axis_count[0] += 1
    n = axis_count[0]
    xa = dict(domain=[px_x(left), px_x(right)], range=list(xrange), anchor=f"y{n}",
              showgrid=False, zeroline=False, showline=False, ticks="", showticklabels=False)
    ya = dict(domain=[px_y(bottom), px_y(top)], range=list(yrange), anchor=f"x{n}",
              showgrid=False, zeroline=False, showline=False, ticks="", showticklabels=False)
    xa.update(xopts or {})
    ya.update(yopts or {})
    axes[f"xaxis{n}"] = xa
    axes[f"yaxis{n}"] = ya
    return f"x{n}", f"y{n}"


def grid_opts(major, minor, width=3.0, minor_width=2.0):
    return dict(tickvals=major, showgrid=True, gridcolor=GRID, gridwidth=width,
                minor=dict(tickvals=minor, showgrid=True, gridcolor=GRID, gridwidth=minor_width, ticks=""))


def step_at(times, surv, t):
    value = surv[0]
    for a, b in zip(times, surv):
        if a <= t:
            value = b
    return value


def ribbon(xa, ya, ut, u, lt, l, fill):
    fig.add_trace(go.Scatter(x=ut, y=u, mode="lines", line=dict(width=0, shape="hv"),
                             xaxis=xa, yaxis=ya, showlegend=False, hoverinfo="skip"))
    fig.add_trace(go.Scatter(x=lt, y=l, mode="lines", line=dict(width=0, shape="hv"),
                             fill="tonexty", fillcolor=fill,
                             xaxis=xa, yaxis=ya, showlegend=False, hoverinfo="skip"))


def km_panel(cfg):
    xr = cfg["xrange"]
    step = cfg["times"][1]
    minors = [t + step / 2 for t in cfg["times"][:-1]] + [cfg["times"][0] - step / 2]
    size = cfg.get("ytick_size", 25)
    xa, ya = new_axes(cfg["left"], cfg["top"], cfg["right"], cfg["bottom"], xr, (-.05, 1.05),
                      grid_opts(cfg["times"], minors),
                      dict(grid_opts([0, .25, .5, .75, 1], [.125, .375, .625, .875]),
                           ticktext=["0.00", "0.25", "0.50", "0.75", "1.00"], tickmode="array",
                           showticklabels=True, ticks="outside", ticklen=cfg.get("ticklen", 6),
                           tickwidth=3, tickcolor="#222222", ticklabelstandoff=cfg.get("ystand", -3),
                           tickfont=dict(family=FONT, size=size, color=TICK_GRAY)))
    for t, s, color in ((cfg["high_t"], cfg["high_s"], HIGH_LINE), (cfg["low_t"], cfg["low_s"], LOW_LINE)):
        fig.add_trace(go.Scatter(x=t, y=s, mode="lines", line=dict(color=color, width=7, shape="hv"),
                                 xaxis=xa, yaxis=ya, showlegend=False, hoverinfo="skip"))
    ribbon(xa, ya, cfg["high_ut"], cfg["high_u"], cfg["high_lt"], cfg["high_l"], HIGH_FILL)
    ribbon(xa, ya, cfg["low_ut"], cfg["low_u"], cfg["low_lt"], cfg["low_l"], LOW_FILL)
    for cens, t, s, color in ((cfg["high_c"], cfg["high_t"], cfg["high_s"], HIGH_LINE),
                              (cfg["low_c"], cfg["low_t"], cfg["low_s"], LOW_LINE)):
        fig.add_trace(go.Scatter(x=cens, y=[step_at(t, s, c) for c in cens], mode="markers",
                                 marker=dict(symbol="cross-thin", size=13, line=dict(width=2, color=color)),
                                 xaxis=xa, yaxis=ya, showlegend=False, hoverinfo="skip"))
    # number-at-risk table
    rows_size = cfg.get("row_size", 27)
    txa, tya = new_axes(cfg["left"], cfg["t_top"], cfg["right"], cfg["t_bottom"], xr, (.4, 2.6),
                        dict(grid_opts(cfg["times"], minors, 2.5, 1.5), showticklabels=True,
                             ticktext=[str(t) for t in cfg["times"]], tickmode="array",
                             ticklabelstandoff=cfg.get("standoff", 1),
                             tickfont=dict(family=FONT, size=25, color=TICK_GRAY)),
                        dict(tickvals=[1, 2], showgrid=True, gridcolor=GRID, gridwidth=3))
    for row, counts, color in ((2, cfg["risk_high"], HIGH_TEXT), (1, cfg["risk_low"], LOW_TEXT)):
        fig.add_trace(go.Scatter(x=cfg["times"], y=[row] * len(counts), mode="text",
                                 text=[str(c) for c in counts],
                                 textfont=dict(family=FONT, size=rows_size, color=color),
                                 xaxis=txa, yaxis=tya, showlegend=False, hoverinfo="skip"))
    label(cfg["left"] + 1, cfg["row_y"][0] - 3, "high", cfg["group_size"], HIGH_TEXT, "right")
    label(cfg["left"] - 1, cfg["row_y"][1] - 3, "low", cfg["group_size"], LOW_TEXT, "right")
    # titles and key
    label(cfg["title_x"], 87, f"<b><i>{cfg['title']}</i></b>", 30, "black", "left")
    label(cfg["p"][0], cfg["p"][1], cfg["p_text"], 30, "black", "left")
    label(cfg["xlab"][0], cfg["xlab"][1], "Time (Months)", 26)
    label(cfg["ylab"][0], cfg["ylab"][1], "Survival probability (%)", cfg["ylab"][2], "black", "center", -90)
    label(cfg["tlab"][0], cfg["tlab"][1], "riskGroup", cfg["tlab"][2], "black", "center", -90)
    k = cfg["key"]
    label(k["text_x"], k["y"], "riskGroup", 25, "black", "left")
    for box, txt_x, name, fill, color in ((k["high_box"], k["high_x"], "high", "rgb(214,178,160)", HIGH_LINE),
                                          (k["low_box"], k["low_x"], "low", "rgb(186,189,216)", LOW_LINE)):
        rect(box[0], k["y"] - 18, box[1], k["y"] + 18, fill)
        seg(box[0] + 2, k["y"], box[1] - 2, k["y"], color, 5)
        seg((box[0] + box[1]) / 2, k["y"] - 9, (box[0] + box[1]) / 2, k["y"] + 9, color, 2)
        label(txt_x, k["y"], name, 25, "black", "left")


km_panel(dict(
    left=181, right=1014, top=197.5, bottom=644, t_top=651, t_bottom=812, xrange=(-6, 126),
    times=A_TIMES, risk_high=A_RISK_HIGH, risk_low=A_RISK_LOW, row_y=(696, 769), group_size=25,
    high_t=A_HIGH_T, high_s=A_HIGH_S, high_ut=A_HIGH_UT, high_u=A_HIGH_U, high_lt=A_HIGH_LT, high_l=A_HIGH_L,
    low_t=A_LOW_T, low_s=A_LOW_S, low_ut=A_LOW_UT, low_u=A_LOW_U, low_lt=A_LOW_LT, low_l=A_LOW_L,
    high_c=A_HIGH_CENSOR, low_c=A_LOW_CENSOR, title="TCGA−train", title_x=182,
    p=(235, 544), p_text="p &lt; 0.0001", xlab=(605, 860), ylab=(105, 390, 31), tlab=(115, 728, 25),
    key=dict(text_x=450, y=146, high_box=(570, 603), high_x=617, low_box=(668, 701), low_x=715)))
km_panel(dict(
    left=1142, right=1997, top=203.7, bottom=661.8, t_top=662, t_bottom=825, xrange=(-6, 126),
    times=B_TIMES, risk_high=B_RISK_HIGH, risk_low=B_RISK_LOW, row_y=(705, 780.6), group_size=22, ticklen=3,
    ystand=-5,
    high_t=B_HIGH_T, high_s=B_HIGH_S, high_ut=B_HIGH_UT, high_u=B_HIGH_U, high_lt=B_HIGH_LT, high_l=B_HIGH_L,
    low_t=B_LOW_T, low_s=B_LOW_S, low_ut=B_LOW_UT, low_u=B_LOW_U, low_lt=B_LOW_LT, low_l=B_LOW_L,
    high_c=B_HIGH_CENSOR, low_c=B_LOW_CENSOR, title="TCGA−test", title_x=1142,
    p=(1196, 558), p_text="p = 0.00058", xlab=(1575, 870), ylab=(1071, 402, 31), tlab=(1076, 741, 25),
    key=dict(text_x=1418, y=147.6, high_box=(1540, 1575), high_x=1588, low_box=(1640, 1674), low_x=1688)))
km_panel(dict(
    left=2199, right=3054, top=203.7, bottom=661.8, t_top=662, t_bottom=825, xrange=(-3.6, 75.6),
    times=C_TIMES, risk_high=C_RISK_HIGH, risk_low=C_RISK_LOW, row_y=(707, 782), group_size=25, ytick_size=23,
    high_t=C_HIGH_T, high_s=C_HIGH_S, high_ut=C_HIGH_UT, high_u=C_HIGH_U, high_lt=C_HIGH_LT, high_l=C_HIGH_L,
    low_t=C_LOW_T, low_s=C_LOW_S, low_ut=C_LOW_UT, low_u=C_LOW_U, low_lt=C_LOW_LT, low_l=C_LOW_L,
    high_c=C_HIGH_CENSOR, low_c=C_LOW_CENSOR, title="GSE14520", title_x=2198,
    p=(2253, 558), p_text="p = 0.0068", xlab=(2630, 871), ylab=(2130, 432, 25), tlab=(2130, 745, 24),
    key=dict(text_x=2475, y=147.6, high_box=(2597.5, 2633), high_x=2646, low_box=(2697, 2733), low_x=2746)))


def scatter_panel(box, xr, yr, xt, xminor, yt, ytext, yminor, alive, dead, lab, key):
    tick = dict(family=FONT, size=25, color=TICK_GRAY)
    xa, ya = new_axes(box[0], box[1], box[2], box[3], xr, yr,
                      dict(grid_opts(xt, xminor), showticklabels=True, tickmode="array",
                           ticktext=[str(v) for v in xt], tickfont=tick, ticklabelstandoff=key["standoff"]),
                      dict(grid_opts(yt, yminor), showticklabels=True, tickmode="array",
                           ticktext=ytext, tickfont=tick, ticklabelstandoff=key["ystand"]))
    for (xs, ys), color in ((alive, ALIVE), (dead, DEAD)):
        fig.add_trace(go.Scatter(x=xs, y=ys, mode="markers", marker=dict(size=15, color=color, opacity=.6),
                                 xaxis=xa, yaxis=ya, showlegend=False, hoverinfo="skip"))
    label(lab[0], lab[1], "Patients (increasing risk score)", 31)
    label(lab[2], lab[3], "Survival time (years)", 31, "black", "center", -90)
    label(key["cx"], key["title_y"], "Survival Status", 31)
    for y, name, color in ((key["y1"], "Alive", "rgb(133,160,200)"), (key["y2"], "Dead", "rgb(224,140,105)")):
        shapes.append(dict(type="circle", xref="paper", yref="paper",
                           x0=px_x(key["dot_x"] - 7), x1=px_x(key["dot_x"] + 7),
                           y0=px_y(y + 7), y1=px_y(y - 7), fillcolor=color, line=dict(width=0)))
        label(key["text_x"], y, name, 25, "black", "left")


def risk_panel(box, xr, yr, xt, xminor, yt, ytext, yminor, low, high, lab, key):
    tick = dict(family=FONT, size=25, color=TICK_GRAY)
    xa, ya = new_axes(box[0], box[1], box[2], box[3], xr, yr,
                      dict(grid_opts(xt, xminor), showticklabels=True, tickmode="array",
                           ticktext=[str(v) for v in xt], tickfont=tick, ticklabelstandoff=key["standoff"]),
                      dict(grid_opts(yt, yminor), showticklabels=True, tickmode="array",
                           ticktext=ytext, tickfont=tick, ticklabelstandoff=key["ystand"]))
    for (xs, ys), color in ((low, RISK_LOW), (high, RISK_HIGH)):
        fig.add_trace(go.Scatter(x=xs, y=ys, mode="lines", line=dict(color=color, width=7),
                                 xaxis=xa, yaxis=ya, showlegend=False, hoverinfo="skip"))
    label(lab[0], lab[1], "Patients (increasing risk score)", 31)
    label(lab[2], lab[3], "Risk score", 31, "black", "center", -90)
    label(key["cx"], key["title_y"], "riskGroup", 31)
    for y, name, color in ((key["y1"], "high", RISK_HIGH), (key["y2"], "low", RISK_LOW)):
        seg(key["line"][0], y, key["line"][1], y, color, 7)
        label(key["text_x"], y, name, 25, "black", "left")


scatter_panel((188, 970, 783, 1211), (-12, 267.6), (-.48, 10.03), [0, 100, 200], [50, 150, 250],
              [0, 2.5, 5, 7.5, 10], ["0.0", "2.5", "5.0", "7.5", "10.0"], [1.25, 3.75, 6.25, 8.75],
              (D_ALIVE_X, D_ALIVE_Y), (D_DEAD_X, D_DEAD_Y), (485, 1269, 98, 1089),
              dict(cx=936, title_y=1034, dot_x=855, text_x=896, y1=1088, y2=1138, standoff=8, ystand=11))
risk_panel((188, 1368, 783, 1610), (-12, 267.6), (.2, 3.47), [0, 100, 200], [50, 150, 250],
           [1, 2, 3], ["1", "2", "3"], [.5, 1.5, 2.5],
           (D_LOW_IDX, D_LOW_RISK), (D_HIGH_IDX, D_HIGH_RISK), (485, 1666, 98, 1489),
           dict(cx=936, title_y=1432.5, line=(872, 913), text_x=933, y1=1487, y2=1537, standoff=8, ystand=11))

scatter_panel((1228, 965.7, 1837.6, 1211.6), (-4.4, 113.4), (-.5, 10.55), [0, 30, 60, 90], [15, 45, 75, 105],
              [0, 2.5, 5, 7.5, 10], ["0.0", "2.5", "5.0", "7.5", "10.0"], [1.25, 3.75, 6.25, 8.75],
              (E_ALIVE_X, E_ALIVE_Y), (E_DEAD_X, E_DEAD_Y), (1533, 1272, 1136, 1088),
              dict(cx=1994, title_y=1030.5, dot_x=1910.6, text_x=1952.5, y1=1086, y2=1136.6, standoff=8, ystand=12))
risk_panel((1228, 1372, 1837.6, 1619), (-4.4, 113.4), (.37, 2.61), [0, 30, 60, 90], [15, 45, 75, 105],
           [.5, 1, 1.5, 2, 2.5], ["0.5", "1.0", "1.5", "2.0", "2.5"], [.75, 1.25, 1.75, 2.25],
           (E_LOW_IDX, E_LOW_RISK), (E_HIGH_IDX, E_HIGH_RISK), (1533, 1681, 1136, 1496),
           dict(cx=1994, title_y=1439, line=(1929, 1969), text_x=1990, y1=1494, y2=1545, standoff=8, ystand=12))

scatter_panel((2265, 955.5, 2874, 1203), (-9.8, 232), (-.005, .1933), [0, 50, 100, 150, 200], [25, 75, 125, 175, 225],
              [0, .05, .1, .15], ["0.00", "0.05", "0.10", "0.15"], [.025, .075, .125, .175],
              (F_ALIVE_X, F_ALIVE_Y), (F_DEAD_X, F_DEAD_Y), (2570, 1262, 2174, 1078),
              dict(cx=3030, title_y=1020, dot_x=2947.6, text_x=2989.5, y1=1076, y2=1127, standoff=8, ystand=14))
risk_panel((2265, 1363.7, 2874, 1618), (-9.8, 232), (.3, 1.912), [0, 50, 100, 150, 200], [25, 75, 125, 175, 225],
           [.4, .8, 1.2, 1.6], ["0.4", "0.8", "1.2", "1.6"], [.6, 1, 1.4, 1.8],
           (F_LOW_IDX, F_LOW_RISK), (F_HIGH_IDX, F_HIGH_RISK), (2570, 1668, 2174, 1487),
           dict(cx=3031, title_y=1429.5, line=(2965, 3006), text_x=3027, y1=1484.6, y2=1535, standoff=0, ystand=14))

HEAT_SCALE = [[0, RISK_LOW], [.5, "#ffffff"], [1, RISK_HIGH]]
GROUP_SCALE = [[0, RISK_LOW], [.5, RISK_LOW], [.5, RISK_HIGH], [1, RISK_HIGH]]


def heat_panel(box, ann, rows, counts, label_x, label_ys, bar, gaps=False):
    left, right = box[0], box[2]
    gap_args = dict(xgap=2, ygap=0) if gaps else {}
    if gaps:
        rect(left - 2, ann[0] - 2, right + 2, ann[1] + 2, "#999999", "below")
        rect(left - 2, box[1] - 2, right + 2, box[3] + 2, "#999999", "below")
    n_cols = counts[0] + counts[1]
    xa, ya = new_axes(left, ann[0], right, ann[1], (-.5, n_cols - .5), (-.5, .5))
    fig.add_trace(go.Heatmap(z=[[0] * counts[0] + [1] * counts[1]], zmin=0, zmax=1, colorscale=GROUP_SCALE,
                             showscale=False, xaxis=xa, yaxis=ya, hoverinfo="skip", **gap_args))
    n = min(len(r) for r in rows)
    top_row, row_h = box[1], (box[3] - box[1]) / 3
    for i, values in enumerate(rows):
        ytop = top_row + i * row_h
        xa, ya = new_axes(left, ytop + (1.5 if gaps else 0), right, ytop + row_h - (1.5 if gaps else 0),
                          (-.5, n - .5), (-.5, .5))
        extra = {}
        if i == 0:
            extra = dict(colorbar=dict(
                x=px_x(bar[0]), xanchor="left", y=px_y(bar[2]), yanchor="top",
                len=bar[3] - bar[2], lenmode="pixels", thickness=bar[1] - bar[0], thicknessmode="pixels",
                xpad=0, ypad=0, outlinewidth=0, tickvals=[-2, -1, 0, 1, 2], ticks="", ticklabelposition="outside",
                tickfont=dict(family=FONT, size=29, color="black")))
        fig.add_trace(go.Heatmap(z=[values[:n]], zmin=-2, zmax=2, colorscale=HEAT_SCALE, showscale=i == 0,
                                 xaxis=xa, yaxis=ya, hoverinfo="skip", **gap_args, **extra))
    label(label_x, (ann[0] + ann[1]) / 2, "<b>riskGroup</b>", 28, "black", "left")
    for gene, y in zip(GENES, label_ys):
        label(label_x, y, gene, 28, "black", "left")


heat_panel((84.5, 1756, 837, 2200), (1718, 1747), [D_HEAT_SAC3D1, D_HEAT_PDE2A, D_HEAT_BOP1], D_GROUP_COUNTS,
           845, (1830, 1978, 2126), (990.5, 1019, 1716, 2146))
heat_panel((1121, 1759, 1892.7, 2214.5), (1720, 1751), [E_HEAT_SAC3D1, E_HEAT_PDE2A, E_HEAT_BOP1], E_GROUP_COUNTS,
           1901.6, (1836, 1988, 2139), (2049, 2079, 1718, 2158), gaps=True)
heat_panel((2158.7, 1760, 2928.5, 2214), (1721.7, 1751.3), [F_HEAT_SAC3D1, F_HEAT_PDE2A, F_HEAT_BOP1], F_GROUP_COUNTS,
           2938, (1836, 1988, 2139), (3086.6, 3116, 1718, 2158))


def roc_panel(box, x0, x1, y0, y1, curves, aucs, cfg):
    left, top, right, bottom = box
    sx = (x1 - x0)
    sy = (y0 - y1)
    xr = ((left - x0) / sx, (right - x0) / sx)
    yr = ((y0 - bottom) / sy, (y0 - top) / sy)
    ticks = [0, .2, .4, .6, .8, 1]
    text = ["0.0", "0.2", "0.4", "0.6", "0.8", "1.0"]
    tick_font = dict(family=FONT, size=cfg.get("tick_size", 39), color="#1a1a1a")
    xa, ya = new_axes(left, top, right, bottom, xr, yr,
                      dict(showline=True, mirror=True, linecolor="#1a1a1a", linewidth=2.5, ticks="outside",
                           ticklen=18, tickwidth=2.5, tickcolor="#1a1a1a", tickvals=ticks, ticktext=text,
                           showticklabels=True, tickfont=tick_font, ticklabelstandoff=cfg["xstand"]),
                      dict(showline=True, mirror=True, linecolor="#1a1a1a", linewidth=2.5, ticks="outside",
                           ticklen=18, tickwidth=2.5, tickcolor="#1a1a1a", tickvals=ticks, ticktext=text,
                           showticklabels=True, tickfont=tick_font, tickangle=-90, ticklabelstandoff=cfg["ystand"]))
    fig.add_trace(go.Scatter(x=list(xr), y=list(xr), mode="lines", line=dict(color="#c6c6c6", width=2.5, dash="12px,12px"),
                             xaxis=xa, yaxis=ya, showlegend=False, hoverinfo="skip"))
    for (fpr, tpr), color in zip(curves, ROC_COLORS):
        fig.add_trace(go.Scatter(x=fpr, y=tpr, mode="lines", line=dict(color=color, width=5, shape="hv"),
                                 xaxis=xa, yaxis=ya, showlegend=False, hoverinfo="skip"))
    label(cfg["title_x"], 2326, "<b>Time−dependent ROC Curves</b>", 38.5)
    label(cfg["xlab_x"], 3234, "1−Specificity", 48)
    label(cfg["ylab"][0], cfg["ylab"][1], "Sensitivity", cfg["ylab"][2], "black", "center", -90)
    for i, (y, color, auc) in enumerate(zip(cfg["key_y"], ROC_COLORS, aucs)):
        seg(cfg["key_line"][0], y, cfg["key_line"][1], y, color, 5)
        label(cfg["key_x"], y, f"{i + 1} years (AUC = {auc})", 29, "#1a1a1a", "left")


roc_panel((303, 2390, 1034, 3101), 330, 1007.5, 3074.6, 2416.8,
          [(G_Y1_FPR, G_Y1_TPR), (G_Y2_FPR, G_Y2_TPR), (G_Y3_FPR, G_Y3_TPR)], G_AUC,
          dict(title_x=698, xlab_x=703, ylab=(162, 2709, 48), key_line=(664, 719), key_x=744,
               key_y=(2990, 3031, 3072), xstand=4, ystand=10))
roc_panel((1282.5, 2377, 2020.6, 3094), 1309, 1994, 3068, 2403,
          [(H_Y1_FPR, H_Y1_TPR), (H_Y2_FPR, H_Y2_TPR), (H_Y3_FPR, H_Y3_TPR)], H_AUC,
          dict(title_x=1654, xlab_x=1697, ylab=(1147, 2735, 32.5), key_line=(1645.6, 1702), key_x=1728,
               key_y=(2990, 3024.5, 3060), xstand=3, ystand=10))
roc_panel((2239, 2376, 2986, 3101), 2267, 2959, 3074.6, 2402.5,
          [(I_Y1_FPR, I_Y1_TPR), (I_Y2_FPR, I_Y2_TPR), (I_Y3_FPR, I_Y3_TPR)], I_AUC,
          dict(title_x=2612, xlab_x=2657, ylab=(2102.5, 2738, 32.5), key_line=(2608, 2664), key_x=2691,
               key_y=(2995, 3031, 3067), xstand=8, ystand=10))

# panel letters
for letter, x, y in (("A", 44, 46), ("B", 1042, 46), ("C", 2084, 46), ("D", 38, 882), ("E", 1041, 892),
                     ("F", 2077, 892), ("G", 175, 2283), ("H", 1204, 2283), ("I", 2202, 2283)):
    label(x, y, f"<b>{letter}</b>", 58, "#231815")

fig.update_layout(width=W, height=H, margin=dict(l=0, r=0, t=0, b=0, pad=0, autoexpand=False), autosize=False,
                  paper_bgcolor="white", plot_bgcolor="white", showlegend=False,
                  shapes=shapes, annotations=annotations, font=dict(family=FONT), **axes)
fig.write_html("out.html")
